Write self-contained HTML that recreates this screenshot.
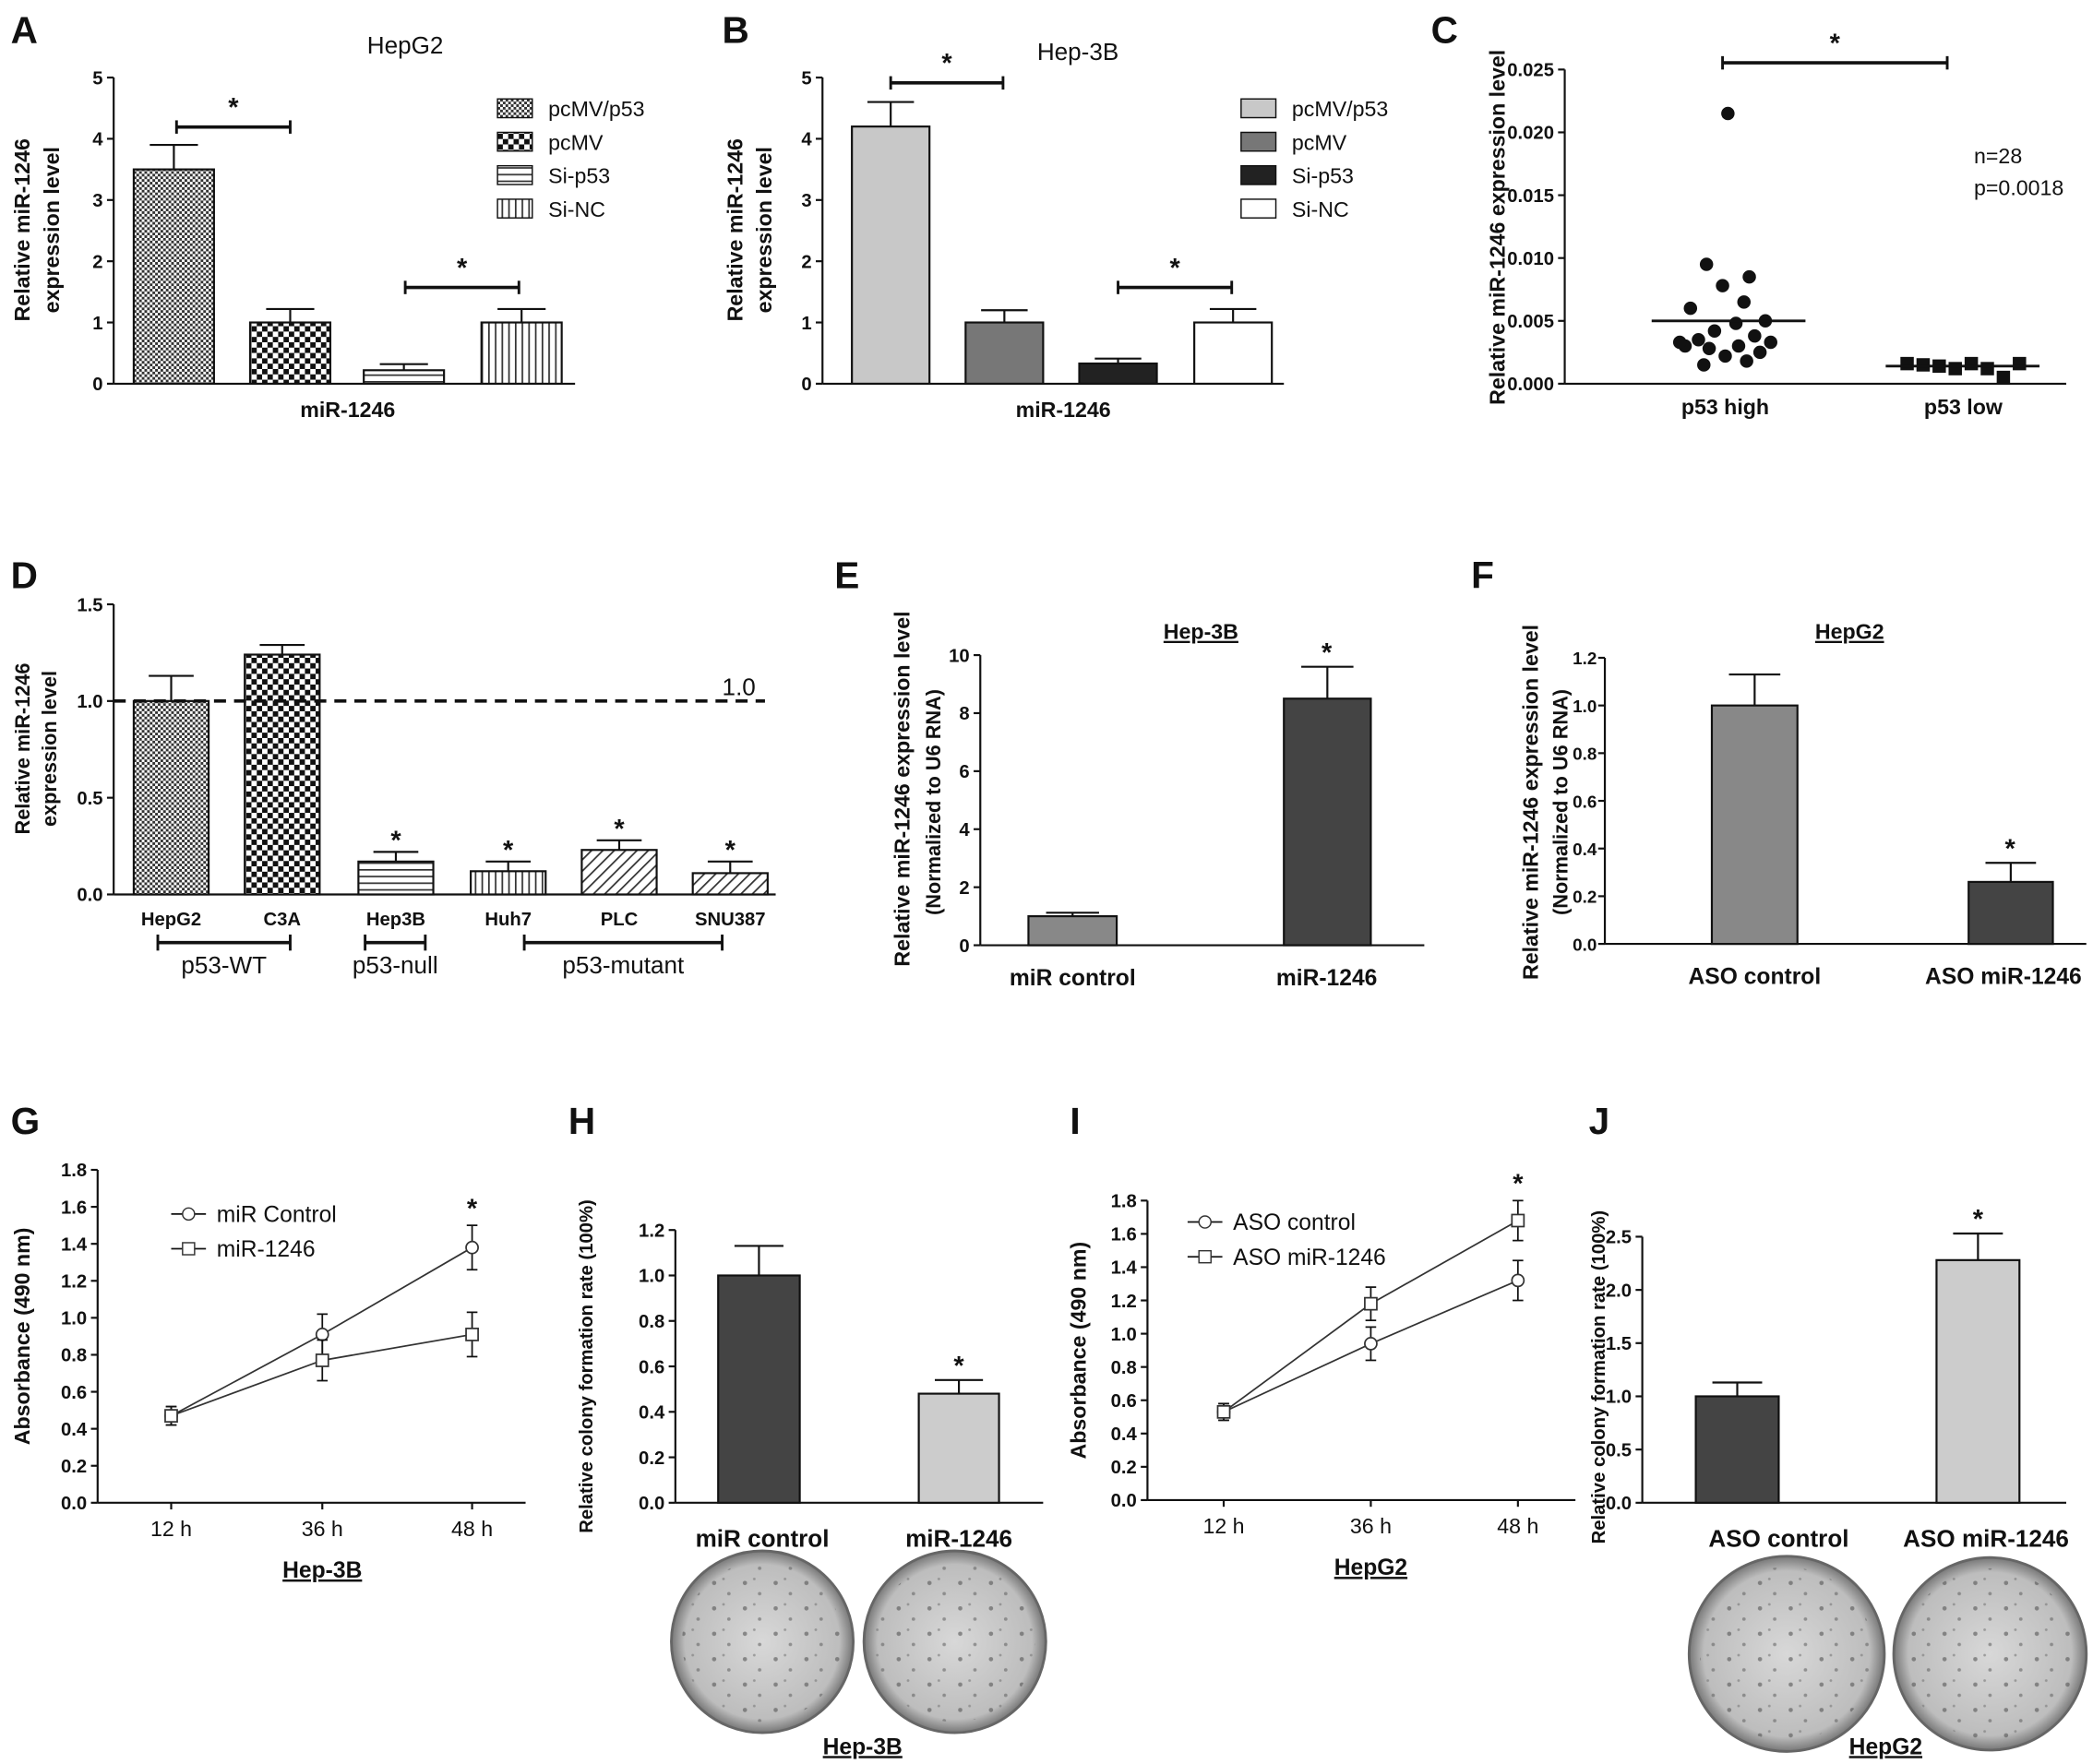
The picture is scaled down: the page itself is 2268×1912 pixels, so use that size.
<!DOCTYPE html>
<html><head><meta charset="utf-8"><style>
html,body{margin:0;padding:0;background:#fff}
svg{display:block;font-family:"Liberation Sans",Arial,sans-serif}
</style></head><body>
<svg id="fig" width="2268" height="1912" viewBox="0 0 1565 1319.4" preserveAspectRatio="none" xmlns="http://www.w3.org/2000/svg">
<defs>
<pattern id="pA1" width="4" height="4" patternUnits="userSpaceOnUse"><rect width="4" height="4" fill="#fff"/><rect width="2" height="2" fill="#333"/><rect x="2" y="2" width="2" height="2" fill="#333"/></pattern>
<pattern id="pA2" width="8" height="8" patternUnits="userSpaceOnUse"><rect width="8" height="8" fill="#fff"/><rect width="4" height="4" fill="#111"/><rect x="4" y="4" width="4" height="4" fill="#111"/></pattern>
<pattern id="pH" width="6" height="5" patternUnits="userSpaceOnUse"><rect width="6" height="5" fill="#fff"/><rect y="0" width="6" height="1.2" fill="#333"/></pattern>
<pattern id="pV" width="5" height="6" patternUnits="userSpaceOnUse"><rect width="5" height="6" fill="#fff"/><rect width="1.2" height="6" fill="#333"/></pattern>
<pattern id="pD" width="6" height="6" patternUnits="userSpaceOnUse" patternTransform="rotate(45)"><rect width="6" height="6" fill="#fff"/><rect width="1.2" height="6" fill="#333"/></pattern>
<pattern id="speck" width="23" height="19" patternUnits="userSpaceOnUse"><circle cx="5" cy="6" r="1.6" fill="#555"/><circle cx="16" cy="14" r="1.3" fill="#666"/><circle cx="12" cy="3" r="1" fill="#777"/></pattern>
<radialGradient id="plate"><stop offset="0" stop-color="#d8d8d8"/><stop offset="0.85" stop-color="#bdbdbd"/><stop offset="1" stop-color="#777"/></radialGradient>
</defs>
</svg>
<script>
// ---- data ----
const aCats=['pcMV/p53','pcMV','Si-p53','Si-NC'];
const aVals=[3.5,1.0,0.22,1.0];
const aErr=[0.4,0.22,0.1,0.22];
const bVals=[4.2,1.0,0.33,1.0];
const bErr=[0.4,0.2,0.08,0.22];
const cHigh=[0.0215,0.0095,0.0085,0.0078,0.0065,0.006,0.005,0.0048,0.0042,0.0038,0.0035,0.0033,0.003,0.003,0.0028,0.0025,0.0022,0.0018,0.0015,0.0033];
const cLow=[0.0016,0.0015,0.0014,0.0012,0.0016,0.0012,0.0005,0.0016];
const cMeans=[0.005,0.0014];
const dCats=['HepG2','C3A','Hep3B','Huh7','PLC','SNU387'];
const dVals=[1.0,1.24,0.17,0.12,0.23,0.11];
const dErr=[0.13,0.05,0.05,0.05,0.05,0.06];
const eCats=['miR control','miR-1246'];
const eVals=[1.0,8.5];
const eErr=[0.12,1.1];
const fCats=['ASO control','ASO miR-1246'];
const fVals=[1.0,0.26];
const fErr=[0.13,0.08];
const gTimes=['12 h','36 h','48 h'];
const gCtrl=[0.47,0.91,1.38];
const gMir=[0.47,0.77,0.91];
const gErr=[0.05,0.11,0.12];
const hVals=[1.0,0.48];
const hErr=[0.13,0.06];
const iCtrl=[0.53,0.94,1.32];
const iMir=[0.53,1.18,1.68];
const iErr=[0.05,0.1,0.12];
const jVals=[1.0,2.28];
const jErr=[0.13,0.25];

const svg=document.getElementById('fig');
const NS='http://www.w3.org/2000/svg';
function mk(tag,attrs,name,parent){
  const el=document.createElementNS(NS,tag);
  for(const k in attrs) el.setAttribute(k,attrs[k]);
  
  
  (parent||svg).appendChild(el);
  return el;
}
function txt(x,y,s,name,o){
  o=o||{};
  const a={x:x,y:y,'font-size':o.size||16,'text-anchor':o.anchor||'middle',fill:'#111'};
  if(o.bold) a['font-weight']='bold';
  if(o.rot) a.transform='rotate(-90 '+x+' '+y+')';
  if(o.ul) a['text-decoration']='underline';
  const t=mk('text',a,name);t.textContent=s;return t;
}
function line(x1,y1,x2,y2,name,w,dash){
  const a={x1:x1,y1:y1,x2:x2,y2:y2,stroke:'#111','stroke-width':w||1.5};
  if(dash)a['stroke-dasharray']=dash;
  return mk('line',a,name);
}
function yAxis(x,y0,y1,max,step,dec,name,xEnd,fs){
  const sc=v=>y0-(v/max)*(y0-y1);
  line(x,y0,x,y1,name+'-y-axis');
  for(let v=0;v<=max+1e-9;v+=step){
    line(x-5,sc(v),x,sc(v),name+'-y-tick');
    txt(x-(fs?6:8),sc(v)+5,v.toFixed(dec),name+'-y-tick-label',{anchor:'end',size:fs||14,bold:true});
  }
  if(xEnd) line(x,y0,xEnd,y0,name+'-x-axis');
  return sc;
}
function bar(x,w,v,e,sc,fill,name){
  mk('rect',{x:x,y:sc(v),width:w,height:sc(0)-sc(v),fill:fill,stroke:'#111','stroke-width':1.5},name);
  const cx=x+w/2;
  line(cx,sc(v),cx,sc(v+e),name+'-error-bar');
  line(cx-w*0.3,sc(v+e),cx+w*0.3,sc(v+e),name+'-error-cap');
}
function sig(x1,x2,y,name){
  line(x1,y,x2,y,name+'-bracket',2.5);
  line(x1,y-5,x1,y+5,name+'-bracket-end',2);line(x2,y-5,x2,y+5,name+'-bracket-end',2);
  txt((x1+x2)/2,y-8,'*',name+'-star',{size:20,bold:true});
}
function star(x,y,name){txt(x,y,'*',name,{size:20,bold:true});}
function panelLabel(x,y,s){txt(x,y,s,'panel-label-'+s.toLowerCase(),{size:28,bold:true,anchor:'start'});}
function plate(cx,cy,r,name){
  mk('circle',{cx:cx,cy:cy,r:r,fill:'url(#plate)',stroke:'#666','stroke-width':2},name);
  mk('circle',{cx:cx,cy:cy,r:r-8,fill:'url(#speck)',opacity:0.6},name+'-colonies');
}

// ---- A ----
panelLabel(8,32,'A');
txt(303,40,'HepG2','panel-a-title',{size:18});
let sc=yAxis(85,287,58,5,1,0,'panel-a',430);
const aFill=['url(#pA1)','url(#pA2)','url(#pH)','url(#pV)'];
const aX=[100,187,272,360];
aVals.forEach((v,i)=>bar(aX[i],60,v,aErr[i],sc,aFill[i],'panel-a-bar-'+i));
sig(132,217,95,'panel-a-sig-1');sig(303,388,215,'panel-a-sig-2');
aCats.forEach((c,i)=>{mk('rect',{x:372,y:74+i*25,width:26,height:14,fill:aFill[i],stroke:'#111'},'panel-a-legend-swatch');txt(410,87+i*25,c,'panel-a-legend-entry',{anchor:'start',size:16});});
txt(22,172,'Relative miR-1246',"panel-a-y-title",{rot:1,bold:1,size:16});
txt(44,172,'expression level',"panel-a-y-title",{rot:1,bold:1,size:16});
txt(260,312,'miR-1246','panel-a-x-title',{bold:1,size:16});

// ---- B ----
panelLabel(540,32,'B');
txt(806,45,'Hep-3B','panel-b-title',{size:18});
sc=yAxis(615,287,58,5,1,0,'panel-b',960);
const bFill=['#c8c8c8','#777','#222','#fff'];
const bX=[637,722,807,893];
bVals.forEach((v,i)=>bar(bX[i],58,v,bErr[i],sc,bFill[i],'panel-b-bar-'+i));
sig(666,750,62,'panel-b-sig-1');sig(836,921,215,'panel-b-sig-2');
aCats.forEach((c,i)=>{mk('rect',{x:928,y:74+i*25,width:26,height:14,fill:bFill[i],stroke:'#111'},'panel-b-legend-swatch');txt(966,87+i*25,c,'panel-b-legend-entry',{anchor:'start',size:16});});
txt(555,172,'Relative miR-1246',"panel-b-y-title",{rot:1,bold:1,size:16});
txt(577,172,'expression level',"panel-b-y-title",{rot:1,bold:1,size:16});
txt(795,312,'miR-1246','panel-b-x-title',{bold:1,size:16});

// ---- C ----
panelLabel(1070,32,'C');
sc=yAxis(1170,287,52,0.025,0.005,3,'panel-c',1545);
txt(1125,170,'Relative miR-1246 expression level','panel-c-y-title',{rot:1,bold:1,size:16});
const jit=[0,-16,16,-4,12,-28,28,6,-10,20,-22,32,-32,8,-14,24,-2,14,-18,-36];
cHigh.forEach((v,i)=>{const x=1292+jit[i];mk('circle',{cx:x,cy:sc(v),r:5,fill:'#111'},'panel-c-high-point');});
cLow.forEach((v,i)=>{const x=1426+i*12;mk('rect',{x:x-5,y:sc(v)-5,width:10,height:10,fill:'#111'},'panel-c-low-point');});
line(1235,sc(cMeans[0]),1350,sc(cMeans[0]),'panel-c-high-mean',2);
line(1410,sc(cMeans[1]),1525,sc(cMeans[1]),'panel-c-low-mean',2);
sig(1288,1456,47,'panel-c-sig');
txt(1476,122,'n=28','panel-c-n',{anchor:'start',size:16});
txt(1476,146,'p=0.0018','panel-c-p',{anchor:'start',size:16});
txt(1290,310,'p53 high','panel-c-x-label',{bold:1,size:16});
txt(1468,310,'p53 low','panel-c-x-label',{bold:1,size:16});

// ---- D ----
panelLabel(8,440,'D');
sc=yAxis(85,669,452,1.5,0.5,1,'panel-d',580);
const dFill=['url(#pA1)','url(#pA2)','url(#pH)','url(#pV)','url(#pD)','url(#pD)'];
const dX=[100,183,268,352,435,518];
dVals.forEach((v,i)=>{bar(dX[i],56,v,dErr[i],sc,dFill[i],'panel-d-bar-'+dCats[i]);txt(dX[i]+28,692,dCats[i],'panel-d-x-label',{bold:1,size:14});if(i>=2)star(dX[i]+28,sc(v+dErr[i])-2,'panel-d-star');});
line(85,sc(1),572,sc(1),'panel-d-reference-line',2.5,'9,6');
txt(540,520,'1.0','panel-d-reference-label',{anchor:'start',size:18});
txt(22,560,'Relative miR-1246',"panel-d-y-title",{rot:1,bold:1,size:15});
txt(42,560,'expression level',"panel-d-y-title",{rot:1,bold:1,size:15});
[[118,217,'p53-WT'],[273,318,'p53-null'],[392,540,'p53-mutant']].forEach(g=>{line(g[0],705,g[1],705,'panel-d-group-bracket',2.5);line(g[0],699,g[0],711,'panel-d-group-end',2);line(g[1],699,g[1],711,'panel-d-group-end',2);txt((g[0]+g[1])/2,728,g[2],'panel-d-group-label',{size:18});});

// ---- E ----
panelLabel(624,440,'E');
sc=yAxis(733,707,490,10,2,0,'panel-e',1065);
txt(898,478,'Hep-3B','panel-e-title',{bold:1,size:16,ul:1});
bar(769,66,eVals[0],eErr[0],sc,'#888','panel-e-bar-control');
bar(960,65,eVals[1],eErr[1],sc,'#444','panel-e-bar-mir');
star(992,sc(eVals[1]+eErr[1])-4,'panel-e-star');
eCats.forEach((c,i)=>txt([802,992][i],737,c,'panel-e-x-label',{bold:1,size:17}));
txt(680,590,'Relative miR-1246 expression level','panel-e-y-title',{rot:1,bold:1,size:16});
txt(703,600,'(Normalized to U6 RNA)','panel-e-y-title',{rot:1,bold:1,size:15});

// ---- F ----
panelLabel(1100,440,'F');
sc=yAxis(1200,706,492,1.2,0.2,1,'panel-f',1560,13);
txt(1383,478,'HepG2','panel-f-title',{bold:1,size:16,ul:1});
bar(1280,64,fVals[0],fErr[0],sc,'#888','panel-f-bar-control');
bar(1472,63,fVals[1],fErr[1],sc,'#444','panel-f-bar-aso');
star(1503,sc(fVals[1]+fErr[1])-4,'panel-f-star');
fCats.forEach((c,i)=>txt([1312,1498][i],736,c,'panel-f-x-label',{bold:1,size:17}));
txt(1150,600,'Relative miR-1246 expression level','panel-f-y-title',{rot:1,bold:1,size:16});
txt(1172,600,'(Normalized to U6 RNA)','panel-f-y-title',{rot:1,bold:1,size:15});

// ---- line charts ----
function lineChart(pfx,ax,y0,y1,xs,s1,s2,err,labels,legY,legX,xTitle,xTitleX,labX){
  const s=yAxis(ax,y0,y1,1.8,0.2,1,pfx,ax+320);
  xs.forEach((x,i)=>{line(x,y0,x,y0+5,pfx+'-x-tick');txt(x,y0+25,gTimes[i],pfx+'-x-label',{size:16});});
  [[s1,'circle'],[s2,'square']].forEach(([d,m],k)=>{
    let p='';d.forEach((v,i)=>p+=(i?'L':'M')+xs[i]+' '+s(v));
    mk('path',{d:p,fill:'none',stroke:'#333','stroke-width':1.2},pfx+'-series-'+m);
    d.forEach((v,i)=>{
      line(xs[i],s(v-err[i]),xs[i],s(v+err[i]),pfx+'-error-bar',1.2);
      line(xs[i]-4,s(v-err[i]),xs[i]+4,s(v-err[i]),pfx+'-error-cap',1.2);
      line(xs[i]-4,s(v+err[i]),xs[i]+4,s(v+err[i]),pfx+'-error-cap',1.2);
      if(m==='circle')mk('circle',{cx:xs[i],cy:s(v),r:4.5,fill:'#fff',stroke:'#333','stroke-width':1.2},pfx+'-point-circle');
      else mk('rect',{x:xs[i]-4.5,y:s(v)-4.5,width:9,height:9,fill:'#fff',stroke:'#333','stroke-width':1.2},pfx+'-point-square');
    });
  });
  labels.forEach((l,i)=>{const y=legY+i*26;line(legX,y,legX+26,y,pfx+'-legend-line',1.2);
    if(i===0)mk('circle',{cx:legX+13,cy:y,r:4.5,fill:'#fff',stroke:'#333'},pfx+'-legend-marker');
    else mk('rect',{x:legX+8.5,y:y-4.5,width:9,height:9,fill:'#fff',stroke:'#333'},pfx+'-legend-marker');
    txt(legX+34,y+6,l,pfx+'-legend-entry',{anchor:'start',size:17});});
  txt(xTitleX,y0+56,xTitle,pfx+'-x-title',{bold:1,ul:1,size:17});
  txt(labX,(y0+y1)/2,'Absorbance (490 nm)',pfx+'-y-title',{rot:1,bold:1,size:16});
  return s;
}
panelLabel(8,848,'G');
let gs=lineChart('panel-g',73,1124,875,[128,241,353],gCtrl,gMir,gErr,['miR Control','miR-1246'],908,128,'Hep-3B',241,22);
star(353,gs(gCtrl[2]+gErr[2])-6,'panel-g-star');
panelLabel(800,848,'I');
let is=lineChart('panel-i',858,1122,898,[915,1025,1135],iCtrl,iMir,iErr,['ASO control','ASO miR-1246'],914,888,'HepG2',1025,812);
star(1135,is(iMir[2]+iErr[2])-6,'panel-i-star');

// ---- H ----
panelLabel(425,848,'H');
sc=yAxis(505,1124,920,1.2,0.2,1,'panel-h',780);
bar(537,61,hVals[0],hErr[0],sc,'#444','panel-h-bar-control');
bar(687,60,hVals[1],hErr[1],sc,'#ccc','panel-h-bar-mir');
star(717,sc(hVals[1]+hErr[1])-4,'panel-h-star');
txt(570,1157,'miR control','panel-h-x-label',{bold:1,size:18});
txt(717,1157,'miR-1246','panel-h-x-label',{bold:1,size:18});
txt(443,1022,'Relative colony formation rate (100%)','panel-h-y-title',{rot:1,bold:1,size:14});
plate(570,1228,68,'panel-h-plate-control');
plate(714,1228,68,'panel-h-plate-mir');
txt(645,1312,'Hep-3B','panel-h-caption',{bold:1,ul:1,size:17});

// ---- J ----
panelLabel(1188,848,'J');
sc=yAxis(1228,1124,925,2.5,0.5,1,'panel-j',1545);
bar(1268,62,jVals[0],jErr[0],sc,'#444','panel-j-bar-control');
bar(1448,62,jVals[1],jErr[1],sc,'#ccc','panel-j-bar-aso');
star(1479,sc(jVals[1]+jErr[1])-4,'panel-j-star');
txt(1330,1157,'ASO control','panel-j-x-label',{bold:1,size:18});
txt(1485,1157,'ASO miR-1246','panel-j-x-label',{bold:1,size:18});
txt(1200,1030,'Relative colony formation rate (100%)','panel-j-y-title',{rot:1,bold:1,size:14});
plate(1336,1237,73,'panel-j-plate-control');
plate(1488,1237,72,'panel-j-plate-aso');
txt(1410,1312,'HepG2','panel-j-caption',{bold:1,ul:1,size:17});
</script>
</body></html>
